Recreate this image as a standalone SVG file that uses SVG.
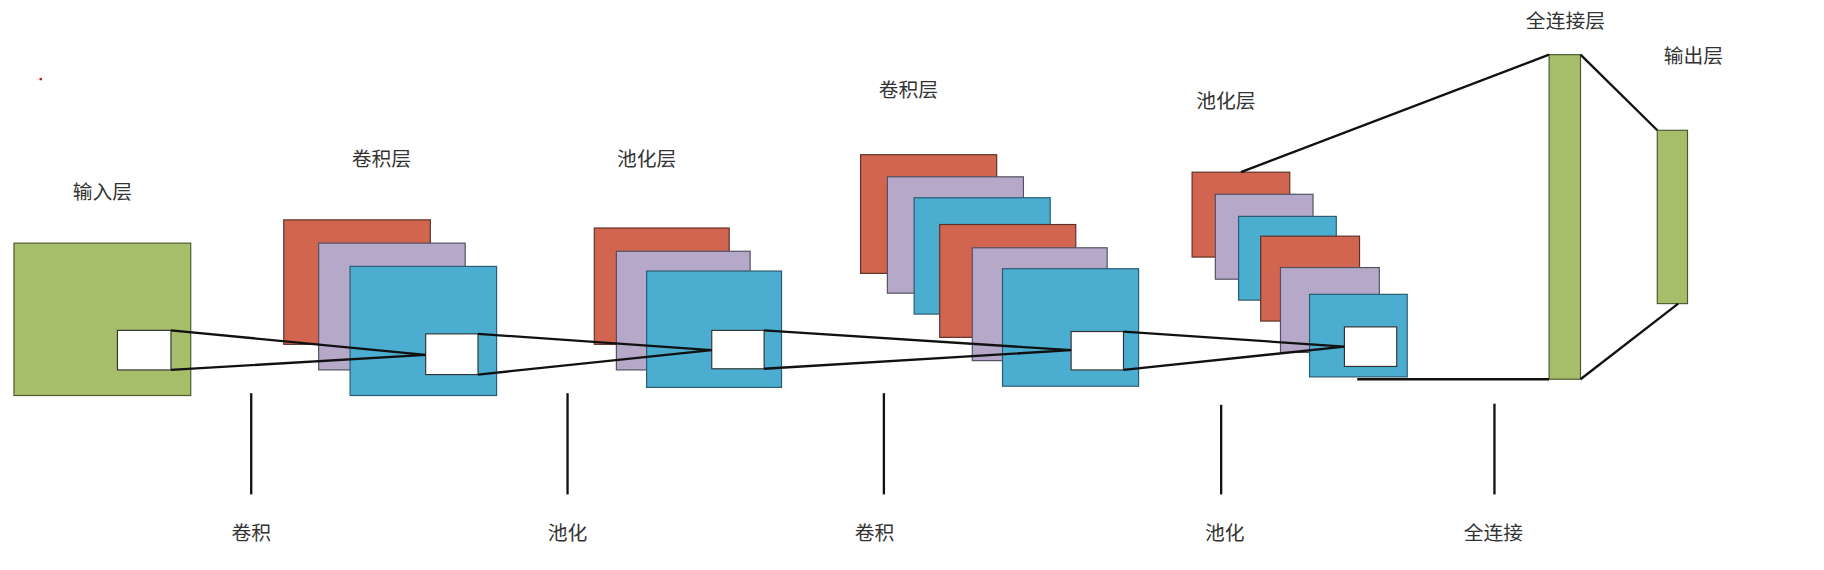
<svg xmlns="http://www.w3.org/2000/svg" width="1824" height="570" viewBox="0 0 1824 570">
<style>
.g{fill:#A6BD69;stroke:#4a5a30;stroke-width:1}
.r{fill:#D2654F;stroke:#5a3028;stroke-width:1}
.p{fill:#B5A8C8;stroke:#505060;stroke-width:1}
.b{fill:#4BADD0;stroke:#2a5a70;stroke-width:1}
.w{fill:#fff;stroke:#333;stroke-width:1}
.c line,.c polyline{stroke:#111;stroke-width:2;fill:none}
text{font-family:"Noto Sans CJK SC","Noto Sans",sans-serif;font-size:17px;fill:#333;text-anchor:middle}
</style>
<rect width="1824" height="570" fill="#fff"/>
<g transform="scale(1.163,1.1633)">
<rect x="34" y="67" width="2" height="2" fill="#c00"/>
<g id="input"><text x="88" y="171">输入层</text><rect class="g" x="12" y="209" width="152" height="131"/><rect class="w" x="101" y="284" width="46" height="34"/></g>
<g id="conv1"><text x="328" y="143">卷积层</text>
<rect class="r" x="244" y="189" width="126" height="107"/><rect class="p" x="274" y="209" width="126" height="109"/><rect class="b" x="301" y="229" width="126" height="111"/><rect class="w" x="366" y="287" width="45" height="35"/></g>
<g id="pool1"><text x="556" y="143">池化层</text>
<rect class="r" x="511" y="196" width="116" height="100"/><rect class="p" x="530" y="216" width="115" height="102"/><rect class="b" x="556" y="233" width="116" height="100"/><rect class="w" x="612" y="284" width="45" height="33"/></g>
<g id="conv2"><text x="781" y="83">卷积层</text>
<rect class="r" x="740" y="133" width="117" height="102"/><rect class="p" x="763" y="152" width="117" height="100"/><rect class="b" x="786" y="170" width="117" height="100"/><rect class="r" x="808" y="193" width="117" height="97"/><rect class="p" x="836" y="213" width="116" height="97"/><rect class="b" x="862" y="231" width="117" height="101"/><rect class="w" x="921" y="285" width="45" height="33"/></g>
<g id="pool2"><text x="1054" y="93">池化层</text>
<rect class="r" x="1025" y="148" width="84" height="73"/><rect class="p" x="1045" y="167" width="84" height="73"/><rect class="b" x="1065" y="186" width="84" height="72"/><rect class="r" x="1084" y="203" width="85" height="73"/><rect class="p" x="1101" y="230" width="85" height="73"/><rect class="b" x="1126" y="253" width="84" height="71"/><rect class="w" x="1156" y="281" width="45" height="34"/></g>
<g id="fc"><text x="1346" y="24">全连接层</text><rect class="g" x="1332" y="47" width="27" height="279"/></g>
<g id="output"><text x="1456" y="54">输出层</text><rect class="g" x="1425" y="112" width="26" height="149"/></g>
<g class="c" id="connectors">
<polyline points="147,284 366,305 147,318"/>
<polyline points="411,287 612,301 411,322"/>
<polyline points="657,284 921,301 657,317"/>
<polyline points="966,285 1156,298 966,318"/>
<polyline points="1067,148 1332,47"/>
<polyline points="1167,326 1332,326"/>
<polyline points="1359,47 1425,112"/>
<polyline points="1359,326 1443,261"/>
<line x1="216" y1="338" x2="216" y2="425"/>
<line x1="488" y1="338" x2="488" y2="425"/>
<line x1="760" y1="338" x2="760" y2="425"/>
<line x1="1050" y1="348" x2="1050" y2="425"/>
<line x1="1285" y1="347" x2="1285" y2="425"/>
</g>
<g id="labels"><text x="216" y="464">卷积</text><text x="488" y="464">池化</text><text x="752" y="464">卷积</text><text x="1053" y="464">池化</text><text x="1284" y="464">全连接</text></g>
</g>
</svg>
